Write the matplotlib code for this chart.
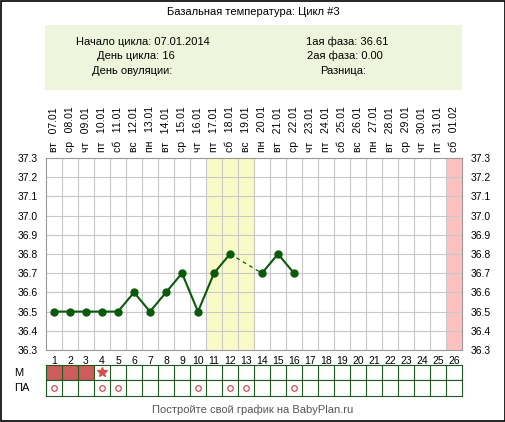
import matplotlib
matplotlib.use("Agg")
import matplotlib.pyplot as plt
import numpy as np

# data
days = list(range(1, 27))
weekdays = ["вт", "ср", "чт", "пт", "сб", "вс", "пн"] * 4
dates = ["07.01", "08.01", "09.01", "10.01", "11.01", "12.01", "13.01", "14.01",
         "15.01", "16.01", "17.01", "18.01", "19.01", "20.01", "21.01", "22.01",
         "23.01", "24.01", "25.01", "26.01", "27.01", "28.01", "29.01", "30.01",
         "31.01", "01.02"]
temp_days = [1, 2, 3, 4, 5, 6, 7, 8, 9, 10, 11, 12, 14, 15, 16]
temps = [36.5, 36.5, 36.5, 36.5, 36.5, 36.6, 36.5, 36.6, 36.7, 36.5, 36.7, 36.8, 36.7, 36.8, 36.7]
yellow_days = [11, 12, 13]
pink_days = [26]
m_days = [1, 2, 3]
star_days = [4]
pa_days = [1, 4, 5, 10, 12, 13, 16]
yticks = [36.3, 36.4, 36.5, 36.6, 36.7, 36.8, 36.9, 37.0, 37.1, 37.2, 37.3]

plt.rcParams["font.family"] = ["Liberation Sans", "DejaVu Sans"]
W, H = 506, 422
fig = plt.figure(figsize=(W / 100, H / 100), dpi=100)

def fr(x0, y0, x1, y1):
    return [x0 / W, 1 - y1 / H, (x1 - x0) / W, (y1 - y0) / H]

# frame
fig.patches.append(plt.Rectangle((0.002, 0.002), 0.996, 0.996, transform=fig.transFigure,
                                 fill=False, ec="black", lw=1.2))
fig.text(0.5, 1 - 12 / H, "Базальная температура: Цикл #3", ha="center", va="center", fontsize=8)

# info box
fig.patches.append(plt.Rectangle((45 / W, 1 - 90 / H), 417 / W, 65 / H, transform=fig.transFigure,
                                 fc="#eef5dc", ec="none"))
fs = 8
fig.text(210 / W, 1 - 42 / H, "Начало цикла: 07.01.2014", ha="right", va="center", fontsize=fs)
fig.text(175 / W, 1 - 56 / H, "День цикла: 16", ha="right", va="center", fontsize=fs)
fig.text(172 / W, 1 - 71 / H, "День овуляции:", ha="right", va="center", fontsize=fs)
fig.text(388 / W, 1 - 42 / H, "1ая фаза: 36.61", ha="right", va="center", fontsize=fs)
fig.text(383 / W, 1 - 56 / H, "2ая фаза: 0.00", ha="right", va="center", fontsize=fs)
fig.text(366 / W, 1 - 71 / H, "Разница:", ha="right", va="center", fontsize=fs)

x0, x1 = 46, 462
ax = fig.add_axes(fr(x0, 158, x1, 350))
ax.set_xlim(0, 26)
ax.set_ylim(36.3, 37.3)
for d in yellow_days:
    ax.axvspan(d - 1, d, color="#fafac8", lw=0)
for d in pink_days:
    ax.axvspan(d - 1, d, color="#ffc0c0", lw=0)
for x in range(1, 26):
    ax.axvline(x, color="#c8c8c8", lw=0.8)
for y in yticks[1:-1]:
    ax.axhline(y, color="#c8c8c8", lw=0.8)

# line, with dashed segment over the missing day
xs = np.array(temp_days) - 0.5
solid_x, solid_y = [], []
for i in range(len(temp_days)):
    if i > 0 and temp_days[i] - temp_days[i - 1] > 1:
        ax.plot(solid_x, solid_y, color="#0b5a0b", lw=1.5)
        ax.plot([xs[i - 1], xs[i]], [temps[i - 1], temps[i]], color="#0b5a0b", lw=0.9, ls=(0, (3, 3)))
        solid_x, solid_y = [], []
    solid_x.append(xs[i])
    solid_y.append(temps[i])
ax.plot(solid_x, solid_y, color="#0b5a0b", lw=1.5)
ax.plot(xs, temps, "o", color="#0b5a0b", ms=5)

ax.set_yticks(yticks)
ax.set_yticklabels([f"{v:.1f}" for v in yticks], fontsize=7.5)
ax.tick_params(axis="y", length=0, pad=6, labelright=True, right=False)
ax.set_xticks(np.array(days) - 0.5)
ax.set_xticklabels([str(d) for d in days], fontsize=7.5)
ax.tick_params(axis="x", length=0, pad=4)
for s in ax.spines.values():
    s.set_color("#999999")
for i, d in enumerate(days):
    ax.text(d - 0.5, 1.03, f"{weekdays[i]}   {dates[i]}", transform=ax.get_xaxis_transform(),
            rotation=90, ha="center", va="bottom", fontsize=7.5)

# M and PA rows
for row, (ya, yb, label) in enumerate([(365, 380, "М"), (380, 396, "ПА")]):
    rax = fig.add_axes(fr(x0, ya, x1, yb))
    rax.set_xlim(0, 26)
    rax.set_ylim(0, 1)
    rax.set_xticks([]); rax.set_yticks([])
    for s in rax.spines.values():
        s.set_color("#1e5a1e")
    for x in range(1, 26):
        rax.axvline(x, color="#1e5a1e", lw=0.8)
    if row == 0:
        for d in m_days:
            rax.axvspan(d - 1, d, color="#cd5c5c", lw=0)
        for d in star_days:
            rax.plot(d - 0.5, 0.55, marker="*", color="#d25050", ms=7)
    else:
        for d in pa_days:
            rax.plot(d - 0.5, 0.5, "o", mfc="none", mec="#d25050", ms=4, mew=0.9)
    fig.text(14 / W, 1 - (ya + yb) / 2 / H, label, ha="left", va="center", fontsize=8)

fig.text(0.5, 1 - 410 / H, "Постройте свой график на BabyPlan.ru", ha="center", va="center",
         fontsize=8, color="#555555")

fig.savefig("out.png", dpi=100)
